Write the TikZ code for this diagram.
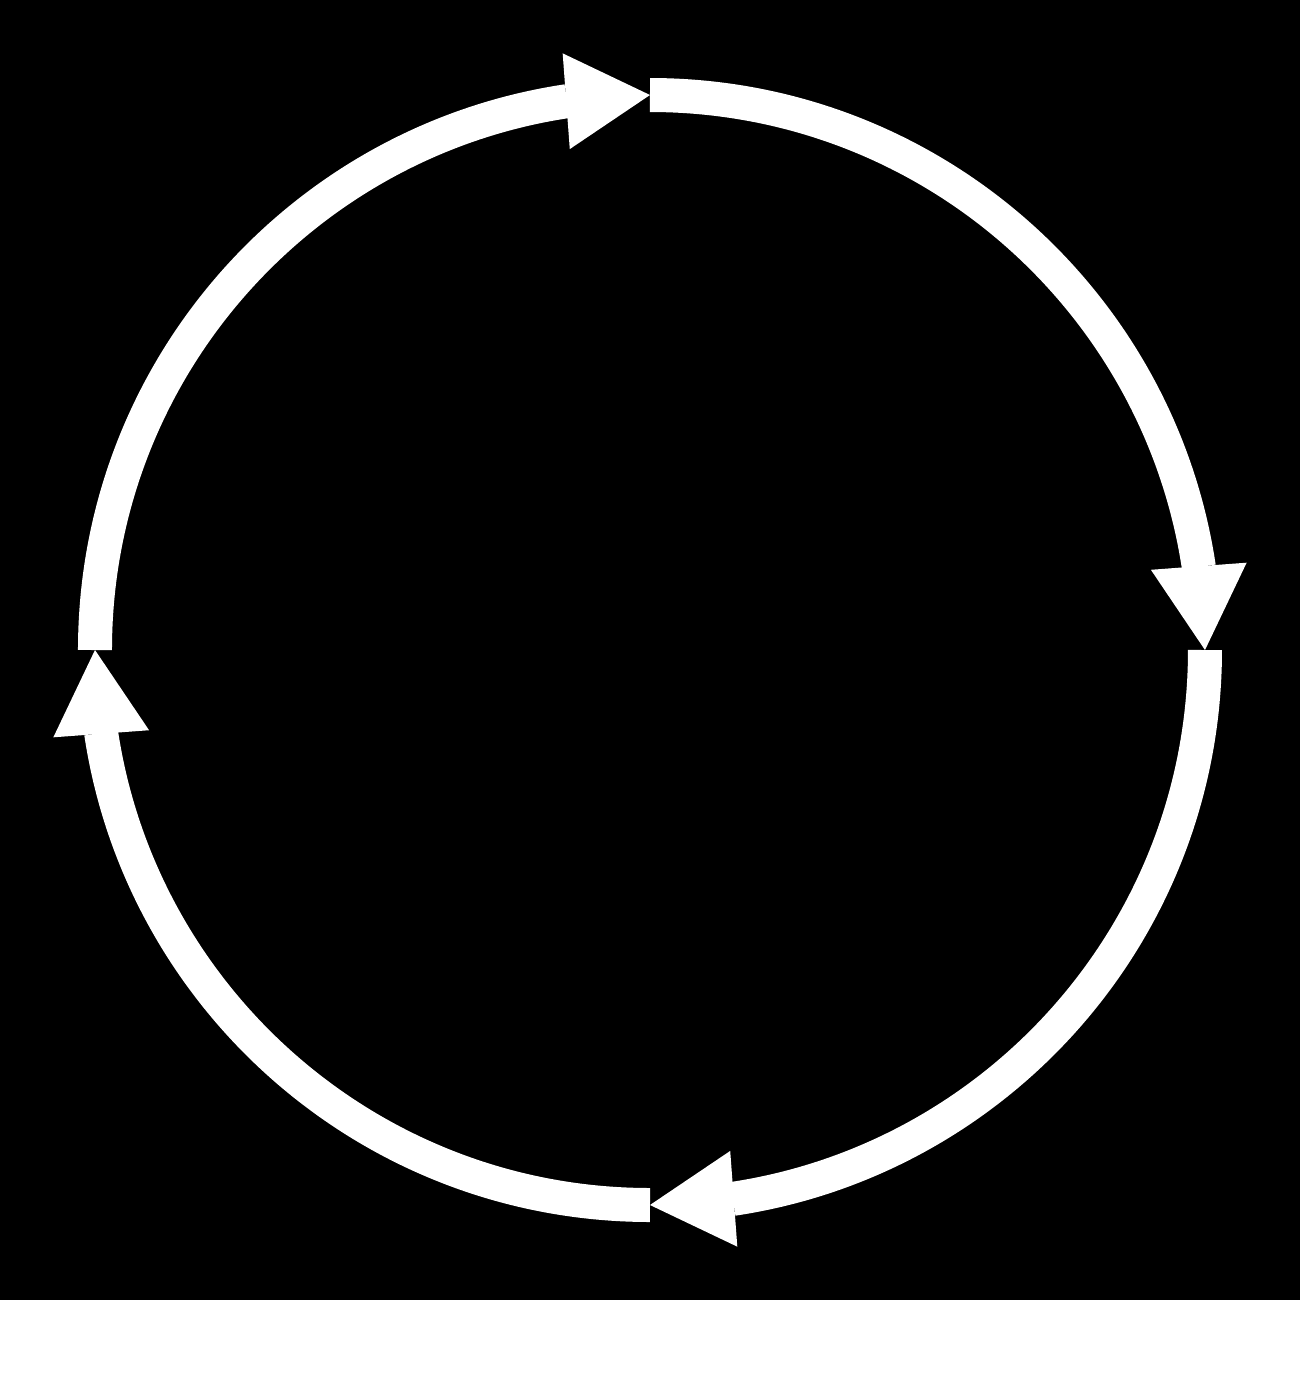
\documentclass[tikz,border=0pt]{standalone}
\usetikzlibrary{arrows.meta,bending}
\begin{document}
\begin{tikzpicture}
            % background: black field and the plain strip below it
            \fill[white] (-6.5,-7.4) rectangle (6.5,6.5);
            \fill[black] (-6.5,-6.5) rectangle (6.5,6.5);
            \useasboundingbox (-6.5,-7.4) rectangle (6.5,6.5);

            \begin{scope}[
                    cyclearrow/.style={draw=white, line width=3.4mm,
                        -{Triangle[length=8.4mm, width=9.6mm, line width=0pt]}}
                ]

                \coordinate (left) at (180:5.55);
                \coordinate (top) at (90:5.55);
                \coordinate (right) at (0:5.55);
                \coordinate (bottom) at (270:5.55);

                \draw[cyclearrow] (left) arc[start angle=180, end angle=90, radius=5.55];
                \draw[cyclearrow] (top) arc[start angle=90, end angle=0, radius=5.55];
                \draw[cyclearrow] (right) arc[start angle=0, end angle=-90, radius=5.55];
                \draw[cyclearrow] (bottom) arc[start angle=-90, end angle=-180, radius=5.55];
            \end{scope}
        \end{tikzpicture}
\end{document}
